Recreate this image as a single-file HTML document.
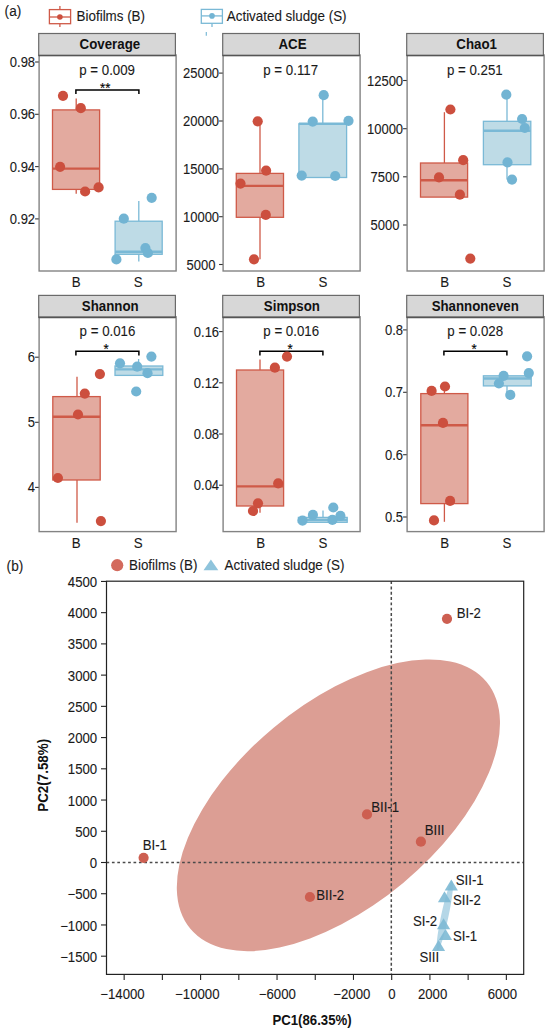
<!DOCTYPE html>
<html><head><meta charset="utf-8"><style>
html,body{margin:0;padding:0;background:#fff;}
body{width:550px;height:1031px;overflow:hidden;}
svg{display:block;font-family:"Liberation Sans", sans-serif;}
</style></head><body>
<svg width="550" height="1031" viewBox="0 0 550 1031">
<rect width="550" height="1031" fill="#fff"/>
<rect x="39.1" y="55.0" width="137.0" height="216.0" fill="#fff" stroke="#838383" stroke-width="1.4"/>
<rect x="38.7" y="33.5" width="136.7" height="22.0" fill="#d7d7d7" stroke="#6a6a6a" stroke-width="1.2"/>
<line x1="38.7" y1="55.5" x2="175.7" y2="55.5" stroke="#555" stroke-width="1.7"/>
<text transform="translate(109.90 48.80) scale(1 1.07)" font-size="13.3" text-anchor="middle" font-weight="bold" fill="#111" >Coverage</text>
<line x1="35.1" y1="62.0" x2="38.7" y2="62.0" stroke="#333" stroke-width="1.1"/>
<text transform="translate(35.10 67.00) scale(1 1.07)" font-size="13.0" text-anchor="end" font-weight="normal" fill="#1a1a1a" stroke="#1a1a1a" stroke-width="0.1" >0.98</text>
<line x1="35.1" y1="114.3" x2="38.7" y2="114.3" stroke="#333" stroke-width="1.1"/>
<text transform="translate(35.10 119.30) scale(1 1.07)" font-size="13.0" text-anchor="end" font-weight="normal" fill="#1a1a1a" stroke="#1a1a1a" stroke-width="0.1" >0.96</text>
<line x1="35.1" y1="166.6" x2="38.7" y2="166.6" stroke="#333" stroke-width="1.1"/>
<text transform="translate(35.10 171.60) scale(1 1.07)" font-size="13.0" text-anchor="end" font-weight="normal" fill="#1a1a1a" stroke="#1a1a1a" stroke-width="0.1" >0.94</text>
<line x1="35.1" y1="218.9" x2="38.7" y2="218.9" stroke="#333" stroke-width="1.1"/>
<text transform="translate(35.10 223.90) scale(1 1.07)" font-size="13.0" text-anchor="end" font-weight="normal" fill="#1a1a1a" stroke="#1a1a1a" stroke-width="0.1" >0.92</text>
<text transform="translate(76.10 286.50) scale(1 1.07)" font-size="13.3" text-anchor="middle" font-weight="normal" fill="#1a1a1a" stroke="#1a1a1a" stroke-width="0.1" >B</text>
<text transform="translate(138.30 286.50) scale(1 1.07)" font-size="13.3" text-anchor="middle" font-weight="normal" fill="#1a1a1a" stroke="#1a1a1a" stroke-width="0.1" >S</text>
<text transform="translate(107.10 74.70) scale(1 1.07)" font-size="13.3" text-anchor="middle" font-weight="normal" fill="#1a1a1a" stroke="#1a1a1a" stroke-width="0.1" >p = 0.009</text>
<path d="M75.89999999999999,94.10000000000001 V89.9 H138.9 V94.10000000000001" fill="none" stroke="#000" stroke-width="1.5"/>
<text transform="translate(105.30 92.95) scale(1 1.07)" font-size="13.3" text-anchor="middle" font-weight="normal" fill="#000" stroke="#000" stroke-width="0.1" >**</text>
<line x1="76.2" y1="98.4" x2="76.2" y2="109.9" stroke="#cf5a48" stroke-width="1.3"/>
<line x1="76.2" y1="189.4" x2="76.2" y2="193.8" stroke="#cf5a48" stroke-width="1.3"/>
<rect x="52.5" y="109.9" width="47.099999999999994" height="79.5" fill="#e3aa9f" stroke="#cf5a48" stroke-width="1.3"/>
<line x1="52.5" y1="168.6" x2="99.6" y2="168.6" stroke="#cf5a48" stroke-width="2.4"/>
<circle cx="63" cy="95.8" r="5.1" fill="#cc4f3e"/>
<circle cx="80.8" cy="108.2" r="5.1" fill="#cc4f3e"/>
<circle cx="60.1" cy="166.8" r="5.1" fill="#cc4f3e"/>
<circle cx="85.1" cy="191.5" r="5.1" fill="#cc4f3e"/>
<circle cx="98.6" cy="187.4" r="5.1" fill="#cc4f3e"/>
<line x1="138.8" y1="200.9" x2="138.8" y2="221.2" stroke="#7ab9d6" stroke-width="1.3"/>
<line x1="138.8" y1="254.3" x2="138.8" y2="261.5" stroke="#7ab9d6" stroke-width="1.3"/>
<rect x="115.1" y="221.2" width="47.099999999999994" height="33.10000000000002" fill="#bedbe6" stroke="#7ab9d6" stroke-width="1.3"/>
<line x1="115.1" y1="251.8" x2="162.2" y2="251.8" stroke="#7ab9d6" stroke-width="2.4"/>
<circle cx="151.7" cy="197.8" r="5.1" fill="#72b4d3"/>
<circle cx="123.8" cy="218.7" r="5.1" fill="#72b4d3"/>
<circle cx="145.4" cy="248" r="5.1" fill="#72b4d3"/>
<circle cx="147.9" cy="253" r="5.1" fill="#72b4d3"/>
<circle cx="116.4" cy="259.4" r="5.1" fill="#72b4d3"/>
<rect x="223.1" y="55.0" width="137.0" height="216.0" fill="#fff" stroke="#838383" stroke-width="1.4"/>
<rect x="222.7" y="33.5" width="136.7" height="22.0" fill="#d7d7d7" stroke="#6a6a6a" stroke-width="1.2"/>
<line x1="222.7" y1="55.5" x2="359.7" y2="55.5" stroke="#555" stroke-width="1.7"/>
<text transform="translate(292.50 48.80) scale(1 1.07)" font-size="13.3" text-anchor="middle" font-weight="bold" fill="#111" >ACE</text>
<line x1="219.1" y1="73.1" x2="222.7" y2="73.1" stroke="#333" stroke-width="1.1"/>
<text transform="translate(219.10 78.10) scale(1 1.07)" font-size="13.0" text-anchor="end" font-weight="normal" fill="#1a1a1a" stroke="#1a1a1a" stroke-width="0.1" >25000</text>
<line x1="219.1" y1="121.0" x2="222.7" y2="121.0" stroke="#333" stroke-width="1.1"/>
<text transform="translate(219.10 126.00) scale(1 1.07)" font-size="13.0" text-anchor="end" font-weight="normal" fill="#1a1a1a" stroke="#1a1a1a" stroke-width="0.1" >20000</text>
<line x1="219.1" y1="168.9" x2="222.7" y2="168.9" stroke="#333" stroke-width="1.1"/>
<text transform="translate(219.10 173.90) scale(1 1.07)" font-size="13.0" text-anchor="end" font-weight="normal" fill="#1a1a1a" stroke="#1a1a1a" stroke-width="0.1" >15000</text>
<line x1="219.1" y1="216.7" x2="222.7" y2="216.7" stroke="#333" stroke-width="1.1"/>
<text transform="translate(219.10 221.70) scale(1 1.07)" font-size="13.0" text-anchor="end" font-weight="normal" fill="#1a1a1a" stroke="#1a1a1a" stroke-width="0.1" >10000</text>
<line x1="219.1" y1="264.5" x2="222.7" y2="264.5" stroke="#333" stroke-width="1.1"/>
<text transform="translate(215.40 269.50) scale(1 1.07)" font-size="13.0" text-anchor="end" font-weight="normal" fill="#1a1a1a" stroke="#1a1a1a" stroke-width="0.1" >5000</text>
<text transform="translate(260.80 286.50) scale(1 1.07)" font-size="13.3" text-anchor="middle" font-weight="normal" fill="#1a1a1a" stroke="#1a1a1a" stroke-width="0.1" >B</text>
<text transform="translate(323.00 286.50) scale(1 1.07)" font-size="13.3" text-anchor="middle" font-weight="normal" fill="#1a1a1a" stroke="#1a1a1a" stroke-width="0.1" >S</text>
<text transform="translate(290.70 74.70) scale(1 1.07)" font-size="13.3" text-anchor="middle" font-weight="normal" fill="#1a1a1a" stroke="#1a1a1a" stroke-width="0.1" >p = 0.117</text>
<line x1="260" y1="121.3" x2="260" y2="173.4" stroke="#cf5a48" stroke-width="1.3"/>
<line x1="260" y1="217.3" x2="260" y2="259.3" stroke="#cf5a48" stroke-width="1.3"/>
<rect x="236.3" y="173.4" width="47.19999999999999" height="43.900000000000006" fill="#e3aa9f" stroke="#cf5a48" stroke-width="1.3"/>
<line x1="236.3" y1="185.9" x2="283.5" y2="185.9" stroke="#cf5a48" stroke-width="2.4"/>
<circle cx="257.7" cy="121.3" r="5.1" fill="#cc4f3e"/>
<circle cx="266.1" cy="170.7" r="5.1" fill="#cc4f3e"/>
<circle cx="240.5" cy="183.6" r="5.1" fill="#cc4f3e"/>
<circle cx="265.8" cy="214.9" r="5.1" fill="#cc4f3e"/>
<circle cx="254" cy="259.3" r="5.1" fill="#cc4f3e"/>
<line x1="322.8" y1="95.2" x2="322.8" y2="123.8" stroke="#7ab9d6" stroke-width="1.3"/>
<line x1="322.8" y1="177.5" x2="322.8" y2="177.5" stroke="#7ab9d6" stroke-width="1.3"/>
<rect x="298.9" y="123.8" width="47.700000000000045" height="53.7" fill="#bedbe6" stroke="#7ab9d6" stroke-width="1.3"/>
<line x1="298.9" y1="123.8" x2="346.6" y2="123.8" stroke="#7ab9d6" stroke-width="2.4"/>
<circle cx="323.7" cy="95.2" r="5.1" fill="#72b4d3"/>
<circle cx="312.7" cy="121.6" r="5.1" fill="#72b4d3"/>
<circle cx="348.5" cy="120.8" r="5.1" fill="#72b4d3"/>
<circle cx="301.7" cy="175.6" r="5.1" fill="#72b4d3"/>
<circle cx="335.2" cy="176" r="5.1" fill="#72b4d3"/>
<rect x="407.09999999999997" y="55.0" width="137.0" height="216.0" fill="#fff" stroke="#838383" stroke-width="1.4"/>
<rect x="406.7" y="33.5" width="136.7" height="22.0" fill="#d7d7d7" stroke="#6a6a6a" stroke-width="1.2"/>
<line x1="406.7" y1="55.5" x2="543.7" y2="55.5" stroke="#555" stroke-width="1.7"/>
<text transform="translate(476.60 48.80) scale(1 1.07)" font-size="13.3" text-anchor="middle" font-weight="bold" fill="#111" >Chao1</text>
<line x1="403.09999999999997" y1="80.5" x2="406.7" y2="80.5" stroke="#333" stroke-width="1.1"/>
<text transform="translate(403.10 85.50) scale(1 1.07)" font-size="13.0" text-anchor="end" font-weight="normal" fill="#1a1a1a" stroke="#1a1a1a" stroke-width="0.1" >12500</text>
<line x1="403.09999999999997" y1="128.7" x2="406.7" y2="128.7" stroke="#333" stroke-width="1.1"/>
<text transform="translate(403.10 133.70) scale(1 1.07)" font-size="13.0" text-anchor="end" font-weight="normal" fill="#1a1a1a" stroke="#1a1a1a" stroke-width="0.1" >10000</text>
<line x1="403.09999999999997" y1="176.8" x2="406.7" y2="176.8" stroke="#333" stroke-width="1.1"/>
<text transform="translate(399.40 181.80) scale(1 1.07)" font-size="13.0" text-anchor="end" font-weight="normal" fill="#1a1a1a" stroke="#1a1a1a" stroke-width="0.1" >7500</text>
<line x1="403.09999999999997" y1="225.0" x2="406.7" y2="225.0" stroke="#333" stroke-width="1.1"/>
<text transform="translate(399.40 230.00) scale(1 1.07)" font-size="13.0" text-anchor="end" font-weight="normal" fill="#1a1a1a" stroke="#1a1a1a" stroke-width="0.1" >5000</text>
<text transform="translate(444.80 286.50) scale(1 1.07)" font-size="13.3" text-anchor="middle" font-weight="normal" fill="#1a1a1a" stroke="#1a1a1a" stroke-width="0.1" >B</text>
<text transform="translate(507.00 286.50) scale(1 1.07)" font-size="13.3" text-anchor="middle" font-weight="normal" fill="#1a1a1a" stroke="#1a1a1a" stroke-width="0.1" >S</text>
<text transform="translate(474.80 74.70) scale(1 1.07)" font-size="13.3" text-anchor="middle" font-weight="normal" fill="#1a1a1a" stroke="#1a1a1a" stroke-width="0.1" >p = 0.251</text>
<line x1="444.4" y1="112.2" x2="444.4" y2="163.0" stroke="#cf5a48" stroke-width="1.3"/>
<line x1="444.4" y1="197.1" x2="444.4" y2="197.1" stroke="#cf5a48" stroke-width="1.3"/>
<rect x="420.5" y="163.0" width="47.10000000000002" height="34.099999999999994" fill="#e3aa9f" stroke="#cf5a48" stroke-width="1.3"/>
<line x1="420.5" y1="180.3" x2="467.6" y2="180.3" stroke="#cf5a48" stroke-width="2.4"/>
<circle cx="450.4" cy="109.5" r="5.1" fill="#cc4f3e"/>
<circle cx="463.2" cy="160.2" r="5.1" fill="#cc4f3e"/>
<circle cx="439" cy="177.4" r="5.1" fill="#cc4f3e"/>
<circle cx="459.9" cy="194.7" r="5.1" fill="#cc4f3e"/>
<circle cx="470.3" cy="258.6" r="5.1" fill="#cc4f3e"/>
<line x1="507" y1="95.4" x2="507" y2="121.3" stroke="#7ab9d6" stroke-width="1.3"/>
<line x1="507" y1="164.7" x2="507" y2="179.6" stroke="#7ab9d6" stroke-width="1.3"/>
<rect x="483.4" y="121.3" width="47.39999999999998" height="43.39999999999999" fill="#bedbe6" stroke="#7ab9d6" stroke-width="1.3"/>
<line x1="483.4" y1="130.7" x2="530.8" y2="130.7" stroke="#7ab9d6" stroke-width="2.4"/>
<circle cx="506.3" cy="94.7" r="5.1" fill="#72b4d3"/>
<circle cx="522.1" cy="119" r="5.1" fill="#72b4d3"/>
<circle cx="524.8" cy="128" r="5.1" fill="#72b4d3"/>
<circle cx="507.5" cy="162.4" r="5.1" fill="#72b4d3"/>
<circle cx="512" cy="179.6" r="5.1" fill="#72b4d3"/>
<rect x="39.1" y="316.8" width="137.0" height="214.8" fill="#fff" stroke="#838383" stroke-width="1.4"/>
<rect x="38.7" y="295.4" width="136.7" height="21.900000000000034" fill="#d7d7d7" stroke="#6a6a6a" stroke-width="1.2"/>
<line x1="38.7" y1="317.3" x2="175.7" y2="317.3" stroke="#555" stroke-width="1.7"/>
<text transform="translate(110.20 310.72) scale(1 1.07)" font-size="13.3" text-anchor="middle" font-weight="bold" fill="#111" >Shannon</text>
<line x1="35.1" y1="357.2" x2="38.7" y2="357.2" stroke="#333" stroke-width="1.1"/>
<text transform="translate(35.10 362.20) scale(1 1.07)" font-size="13.0" text-anchor="end" font-weight="normal" fill="#1a1a1a" stroke="#1a1a1a" stroke-width="0.1" >6</text>
<line x1="35.1" y1="422.3" x2="38.7" y2="422.3" stroke="#333" stroke-width="1.1"/>
<text transform="translate(35.10 427.30) scale(1 1.07)" font-size="13.0" text-anchor="end" font-weight="normal" fill="#1a1a1a" stroke="#1a1a1a" stroke-width="0.1" >5</text>
<line x1="35.1" y1="487.4" x2="38.7" y2="487.4" stroke="#333" stroke-width="1.1"/>
<text transform="translate(35.10 492.40) scale(1 1.07)" font-size="13.0" text-anchor="end" font-weight="normal" fill="#1a1a1a" stroke="#1a1a1a" stroke-width="0.1" >4</text>
<text transform="translate(76.10 547.90) scale(1 1.07)" font-size="13.3" text-anchor="middle" font-weight="normal" fill="#1a1a1a" stroke="#1a1a1a" stroke-width="0.1" >B</text>
<text transform="translate(138.30 547.90) scale(1 1.07)" font-size="13.3" text-anchor="middle" font-weight="normal" fill="#1a1a1a" stroke="#1a1a1a" stroke-width="0.1" >S</text>
<text transform="translate(107.50 336.10) scale(1 1.07)" font-size="13.3" text-anchor="middle" font-weight="normal" fill="#1a1a1a" stroke="#1a1a1a" stroke-width="0.1" >p = 0.016</text>
<path d="M75.89999999999999,355.49999999999994 V351.29999999999995 H138.9 V355.49999999999994" fill="none" stroke="#000" stroke-width="1.5"/>
<text transform="translate(106.20 354.35) scale(1 1.07)" font-size="13.3" text-anchor="middle" font-weight="normal" fill="#000" stroke="#000" stroke-width="0.1" >*</text>
<line x1="77" y1="376.8" x2="77" y2="396.6" stroke="#cf5a48" stroke-width="1.3"/>
<line x1="77" y1="480" x2="77" y2="522.8" stroke="#cf5a48" stroke-width="1.3"/>
<rect x="52.8" y="396.6" width="47.400000000000006" height="83.39999999999998" fill="#e3aa9f" stroke="#cf5a48" stroke-width="1.3"/>
<line x1="52.8" y1="416.8" x2="100.2" y2="416.8" stroke="#cf5a48" stroke-width="2.4"/>
<circle cx="99.9" cy="374.1" r="5.1" fill="#cc4f3e"/>
<circle cx="84.8" cy="393.6" r="5.1" fill="#cc4f3e"/>
<circle cx="78" cy="414.5" r="5.1" fill="#cc4f3e"/>
<circle cx="57.9" cy="478" r="5.1" fill="#cc4f3e"/>
<circle cx="100.9" cy="521.1" r="5.1" fill="#cc4f3e"/>
<line x1="138.6" y1="359" x2="138.6" y2="366" stroke="#7ab9d6" stroke-width="1.3"/>
<line x1="138.6" y1="375.4" x2="138.6" y2="375.4" stroke="#7ab9d6" stroke-width="1.3"/>
<rect x="115" y="366" width="47.80000000000001" height="9.399999999999977" fill="#bedbe6" stroke="#7ab9d6" stroke-width="1.3"/>
<line x1="115" y1="369.4" x2="162.8" y2="369.4" stroke="#7ab9d6" stroke-width="2.4"/>
<circle cx="120" cy="363.3" r="5.1" fill="#72b4d3"/>
<circle cx="137.2" cy="366.7" r="5.1" fill="#72b4d3"/>
<circle cx="151.4" cy="356.6" r="5.1" fill="#72b4d3"/>
<circle cx="147.5" cy="373.2" r="5.1" fill="#72b4d3"/>
<circle cx="136.2" cy="391.5" r="5.1" fill="#72b4d3"/>
<rect x="223.1" y="316.8" width="137.0" height="214.8" fill="#fff" stroke="#838383" stroke-width="1.4"/>
<rect x="222.7" y="295.4" width="136.7" height="21.900000000000034" fill="#d7d7d7" stroke="#6a6a6a" stroke-width="1.2"/>
<line x1="222.7" y1="317.3" x2="359.7" y2="317.3" stroke="#555" stroke-width="1.7"/>
<text transform="translate(291.90 310.72) scale(1 1.07)" font-size="13.3" text-anchor="middle" font-weight="bold" fill="#111" >Simpson</text>
<line x1="219.1" y1="331.6" x2="222.7" y2="331.6" stroke="#333" stroke-width="1.1"/>
<text transform="translate(219.10 336.60) scale(1 1.07)" font-size="13.0" text-anchor="end" font-weight="normal" fill="#1a1a1a" stroke="#1a1a1a" stroke-width="0.1" >0.16</text>
<line x1="219.1" y1="382.8" x2="222.7" y2="382.8" stroke="#333" stroke-width="1.1"/>
<text transform="translate(219.10 387.80) scale(1 1.07)" font-size="13.0" text-anchor="end" font-weight="normal" fill="#1a1a1a" stroke="#1a1a1a" stroke-width="0.1" >0.12</text>
<line x1="219.1" y1="434.0" x2="222.7" y2="434.0" stroke="#333" stroke-width="1.1"/>
<text transform="translate(219.10 439.00) scale(1 1.07)" font-size="13.0" text-anchor="end" font-weight="normal" fill="#1a1a1a" stroke="#1a1a1a" stroke-width="0.1" >0.08</text>
<line x1="219.1" y1="485.2" x2="222.7" y2="485.2" stroke="#333" stroke-width="1.1"/>
<text transform="translate(219.10 490.20) scale(1 1.07)" font-size="13.0" text-anchor="end" font-weight="normal" fill="#1a1a1a" stroke="#1a1a1a" stroke-width="0.1" >0.04</text>
<text transform="translate(260.80 547.90) scale(1 1.07)" font-size="13.3" text-anchor="middle" font-weight="normal" fill="#1a1a1a" stroke="#1a1a1a" stroke-width="0.1" >B</text>
<text transform="translate(323.00 547.90) scale(1 1.07)" font-size="13.3" text-anchor="middle" font-weight="normal" fill="#1a1a1a" stroke="#1a1a1a" stroke-width="0.1" >S</text>
<text transform="translate(291.20 336.10) scale(1 1.07)" font-size="13.3" text-anchor="middle" font-weight="normal" fill="#1a1a1a" stroke="#1a1a1a" stroke-width="0.1" >p = 0.016</text>
<path d="M259.9,355.49999999999994 V351.29999999999995 H322.9 V355.49999999999994" fill="none" stroke="#000" stroke-width="1.5"/>
<text transform="translate(290.20 354.35) scale(1 1.07)" font-size="13.3" text-anchor="middle" font-weight="normal" fill="#000" stroke="#000" stroke-width="0.1" >*</text>
<line x1="260" y1="359.6" x2="260" y2="370" stroke="#cf5a48" stroke-width="1.3"/>
<line x1="260" y1="506" x2="260" y2="512.7" stroke="#cf5a48" stroke-width="1.3"/>
<rect x="236.5" y="370" width="47.10000000000002" height="136" fill="#e3aa9f" stroke="#cf5a48" stroke-width="1.3"/>
<line x1="236.5" y1="486.4" x2="283.6" y2="486.4" stroke="#cf5a48" stroke-width="2.4"/>
<circle cx="287" cy="356.6" r="5.1" fill="#cc4f3e"/>
<circle cx="274.9" cy="367.7" r="5.1" fill="#cc4f3e"/>
<circle cx="278.2" cy="483.4" r="5.1" fill="#cc4f3e"/>
<circle cx="258" cy="503.3" r="5.1" fill="#cc4f3e"/>
<circle cx="253" cy="511" r="5.1" fill="#cc4f3e"/>
<line x1="323" y1="510.5" x2="323" y2="517.4" stroke="#7ab9d6" stroke-width="1.3"/>
<line x1="323" y1="522.3" x2="323" y2="522.3" stroke="#7ab9d6" stroke-width="1.3"/>
<rect x="298.4" y="517.4" width="48.80000000000001" height="4.899999999999977" fill="#bedbe6" stroke="#7ab9d6" stroke-width="1.3"/>
<line x1="298.4" y1="519.9" x2="347.2" y2="519.9" stroke="#7ab9d6" stroke-width="2.4"/>
<circle cx="333.3" cy="507.5" r="5.1" fill="#72b4d3"/>
<circle cx="312.9" cy="514.9" r="5.1" fill="#72b4d3"/>
<circle cx="340.4" cy="515.9" r="5.1" fill="#72b4d3"/>
<circle cx="302.5" cy="520.6" r="5.1" fill="#72b4d3"/>
<circle cx="332.4" cy="519.9" r="5.1" fill="#72b4d3"/>
<rect x="407.09999999999997" y="316.8" width="137.0" height="214.8" fill="#fff" stroke="#838383" stroke-width="1.4"/>
<rect x="406.7" y="295.4" width="136.7" height="21.900000000000034" fill="#d7d7d7" stroke="#6a6a6a" stroke-width="1.2"/>
<line x1="406.7" y1="317.3" x2="543.7" y2="317.3" stroke="#555" stroke-width="1.7"/>
<text transform="translate(475.20 310.72) scale(1 1.07)" font-size="13.3" text-anchor="middle" font-weight="bold" fill="#111" >Shannoneven</text>
<line x1="403.09999999999997" y1="329.9" x2="406.7" y2="329.9" stroke="#333" stroke-width="1.1"/>
<text transform="translate(403.10 334.90) scale(1 1.07)" font-size="13.0" text-anchor="end" font-weight="normal" fill="#1a1a1a" stroke="#1a1a1a" stroke-width="0.1" >0.8</text>
<line x1="403.09999999999997" y1="392.3" x2="406.7" y2="392.3" stroke="#333" stroke-width="1.1"/>
<text transform="translate(403.10 397.30) scale(1 1.07)" font-size="13.0" text-anchor="end" font-weight="normal" fill="#1a1a1a" stroke="#1a1a1a" stroke-width="0.1" >0.7</text>
<line x1="403.09999999999997" y1="454.7" x2="406.7" y2="454.7" stroke="#333" stroke-width="1.1"/>
<text transform="translate(403.10 459.70) scale(1 1.07)" font-size="13.0" text-anchor="end" font-weight="normal" fill="#1a1a1a" stroke="#1a1a1a" stroke-width="0.1" >0.6</text>
<line x1="403.09999999999997" y1="517.0" x2="406.7" y2="517.0" stroke="#333" stroke-width="1.1"/>
<text transform="translate(403.10 522.00) scale(1 1.07)" font-size="13.0" text-anchor="end" font-weight="normal" fill="#1a1a1a" stroke="#1a1a1a" stroke-width="0.1" >0.5</text>
<text transform="translate(444.80 547.90) scale(1 1.07)" font-size="13.3" text-anchor="middle" font-weight="normal" fill="#1a1a1a" stroke="#1a1a1a" stroke-width="0.1" >B</text>
<text transform="translate(507.00 547.90) scale(1 1.07)" font-size="13.3" text-anchor="middle" font-weight="normal" fill="#1a1a1a" stroke="#1a1a1a" stroke-width="0.1" >S</text>
<text transform="translate(475.20 336.10) scale(1 1.07)" font-size="13.3" text-anchor="middle" font-weight="normal" fill="#1a1a1a" stroke="#1a1a1a" stroke-width="0.1" >p = 0.028</text>
<path d="M443.9,355.49999999999994 V351.29999999999995 H506.9 V355.49999999999994" fill="none" stroke="#000" stroke-width="1.5"/>
<text transform="translate(474.20 354.35) scale(1 1.07)" font-size="13.3" text-anchor="middle" font-weight="normal" fill="#000" stroke="#000" stroke-width="0.1" >*</text>
<line x1="444.4" y1="386.5" x2="444.4" y2="393.6" stroke="#cf5a48" stroke-width="1.3"/>
<line x1="444.4" y1="503.6" x2="444.4" y2="521.8" stroke="#cf5a48" stroke-width="1.3"/>
<rect x="420.8" y="393.6" width="47.099999999999966" height="110.0" fill="#e3aa9f" stroke="#cf5a48" stroke-width="1.3"/>
<line x1="420.8" y1="425.2" x2="467.9" y2="425.2" stroke="#cf5a48" stroke-width="2.4"/>
<circle cx="431.6" cy="390.9" r="5.1" fill="#cc4f3e"/>
<circle cx="445" cy="386.5" r="5.1" fill="#cc4f3e"/>
<circle cx="443" cy="422.9" r="5.1" fill="#cc4f3e"/>
<circle cx="450.1" cy="500.9" r="5.1" fill="#cc4f3e"/>
<circle cx="434" cy="520.4" r="5.1" fill="#cc4f3e"/>
<line x1="507" y1="375.8" x2="507" y2="375.8" stroke="#7ab9d6" stroke-width="1.3"/>
<line x1="507" y1="385.9" x2="507" y2="394.9" stroke="#7ab9d6" stroke-width="1.3"/>
<rect x="483.4" y="375.8" width="47.80000000000007" height="10.099999999999966" fill="#bedbe6" stroke="#7ab9d6" stroke-width="1.3"/>
<line x1="483.4" y1="378.5" x2="531.2" y2="378.5" stroke="#7ab9d6" stroke-width="2.4"/>
<circle cx="527.1" cy="356.3" r="5.1" fill="#72b4d3"/>
<circle cx="528.8" cy="373.1" r="5.1" fill="#72b4d3"/>
<circle cx="503.6" cy="375.8" r="5.1" fill="#72b4d3"/>
<circle cx="498.9" cy="383.5" r="5.1" fill="#72b4d3"/>
<circle cx="510.3" cy="394.9" r="5.1" fill="#72b4d3"/>
<text transform="translate(4.60 15.90) scale(1 1.07)" font-size="13.6" text-anchor="start" font-weight="normal" fill="#1a1a1a" stroke="#1a1a1a" stroke-width="0.1" >(a)</text>
<line x1="59.9" y1="6.0" x2="59.9" y2="9.6" stroke="#cf5a48" stroke-width="1.3"/>
<line x1="59.9" y1="23.7" x2="59.9" y2="27.0" stroke="#cf5a48" stroke-width="1.3"/>
<rect x="49.4" y="9.6" width="21.199999999999996" height="14.1" fill="#fff" stroke="#cf5a48" stroke-width="1.3"/>
<line x1="49.4" y1="17" x2="70.6" y2="17" stroke="#cf5a48" stroke-width="1.3"/>
<circle cx="59.9" cy="17" r="2.8" fill="#cc4f3e"/>
<text transform="translate(76.60 20.60) scale(1 1.07)" font-size="13.4" text-anchor="start" font-weight="normal" fill="#1a1a1a" stroke="#1a1a1a" stroke-width="0.1" >Biofilms (B)</text>
<line x1="212" y1="23.3" x2="212" y2="27.0" stroke="#7ab9d6" stroke-width="1.3"/>
<rect x="201.3" y="9.4" width="21.099999999999994" height="13.9" fill="#fff" stroke="#7ab9d6" stroke-width="1.3"/>
<line x1="201.3" y1="15.9" x2="222.4" y2="15.9" stroke="#7ab9d6" stroke-width="1.3"/>
<circle cx="212" cy="15.9" r="2.8" fill="#72b4d3"/>
<line x1="206.3" y1="32" x2="206.3" y2="35.8" stroke="#7ab9d6" stroke-width="1.2"/>
<text transform="translate(226.80 20.60) scale(1 1.07)" font-size="13.4" text-anchor="start" font-weight="normal" fill="#1a1a1a" stroke="#1a1a1a" stroke-width="0.1" >Activated sludge (S)</text>
<text transform="translate(6.60 570.70) scale(1 1.07)" font-size="13.6" text-anchor="start" font-weight="normal" fill="#1a1a1a" stroke="#1a1a1a" stroke-width="0.1" >(b)</text>
<ellipse cx="338.4" cy="805.3" rx="192.8" ry="101.1" transform="rotate(-39.84 338.4 805.3)" fill="#dc9e94"/>
<ellipse cx="444.8" cy="916" rx="35.5" ry="3.7" transform="rotate(-78 444.8 916)" fill="#b5d7e7"/>
<line x1="106.5" y1="862.5" x2="523.7" y2="862.5" stroke="#4a4a4a" stroke-width="1.45" stroke-dasharray="2.7,2.7"/>
<line x1="391.3" y1="581.2" x2="391.3" y2="974.4" stroke="#4a4a4a" stroke-width="1.5" stroke-dasharray="2.9,2.4"/>
<rect x="106.5" y="581.2" width="417.20000000000005" height="393.19999999999993" fill="none" stroke="#222" stroke-width="1.2"/>
<line x1="101.0" y1="956.19" x2="106.5" y2="956.19" stroke="#222" stroke-width="1.1"/>
<text transform="translate(97.20 961.79) scale(1 1.07)" font-size="13.2" text-anchor="end" font-weight="normal" fill="#1a1a1a" stroke="#1a1a1a" stroke-width="0.1" >−1500</text>
<line x1="101.0" y1="924.96" x2="106.5" y2="924.96" stroke="#222" stroke-width="1.1"/>
<text transform="translate(97.20 930.56) scale(1 1.07)" font-size="13.2" text-anchor="end" font-weight="normal" fill="#1a1a1a" stroke="#1a1a1a" stroke-width="0.1" >−1000</text>
<line x1="101.0" y1="893.73" x2="106.5" y2="893.73" stroke="#222" stroke-width="1.1"/>
<text transform="translate(97.20 899.33) scale(1 1.07)" font-size="13.2" text-anchor="end" font-weight="normal" fill="#1a1a1a" stroke="#1a1a1a" stroke-width="0.1" >−500</text>
<line x1="101.0" y1="862.50" x2="106.5" y2="862.50" stroke="#222" stroke-width="1.1"/>
<text transform="translate(97.20 868.10) scale(1 1.07)" font-size="13.2" text-anchor="end" font-weight="normal" fill="#1a1a1a" stroke="#1a1a1a" stroke-width="0.1" >0</text>
<line x1="101.0" y1="831.27" x2="106.5" y2="831.27" stroke="#222" stroke-width="1.1"/>
<text transform="translate(97.20 836.87) scale(1 1.07)" font-size="13.2" text-anchor="end" font-weight="normal" fill="#1a1a1a" stroke="#1a1a1a" stroke-width="0.1" >500</text>
<line x1="101.0" y1="800.04" x2="106.5" y2="800.04" stroke="#222" stroke-width="1.1"/>
<text transform="translate(97.20 805.64) scale(1 1.07)" font-size="13.2" text-anchor="end" font-weight="normal" fill="#1a1a1a" stroke="#1a1a1a" stroke-width="0.1" >1000</text>
<line x1="101.0" y1="768.81" x2="106.5" y2="768.81" stroke="#222" stroke-width="1.1"/>
<text transform="translate(97.20 774.41) scale(1 1.07)" font-size="13.2" text-anchor="end" font-weight="normal" fill="#1a1a1a" stroke="#1a1a1a" stroke-width="0.1" >1500</text>
<line x1="101.0" y1="737.58" x2="106.5" y2="737.58" stroke="#222" stroke-width="1.1"/>
<text transform="translate(97.20 743.18) scale(1 1.07)" font-size="13.2" text-anchor="end" font-weight="normal" fill="#1a1a1a" stroke="#1a1a1a" stroke-width="0.1" >2000</text>
<line x1="101.0" y1="706.35" x2="106.5" y2="706.35" stroke="#222" stroke-width="1.1"/>
<text transform="translate(97.20 711.95) scale(1 1.07)" font-size="13.2" text-anchor="end" font-weight="normal" fill="#1a1a1a" stroke="#1a1a1a" stroke-width="0.1" >2500</text>
<line x1="101.0" y1="675.12" x2="106.5" y2="675.12" stroke="#222" stroke-width="1.1"/>
<text transform="translate(97.20 680.72) scale(1 1.07)" font-size="13.2" text-anchor="end" font-weight="normal" fill="#1a1a1a" stroke="#1a1a1a" stroke-width="0.1" >3000</text>
<line x1="101.0" y1="643.89" x2="106.5" y2="643.89" stroke="#222" stroke-width="1.1"/>
<text transform="translate(97.20 649.49) scale(1 1.07)" font-size="13.2" text-anchor="end" font-weight="normal" fill="#1a1a1a" stroke="#1a1a1a" stroke-width="0.1" >3500</text>
<line x1="101.0" y1="612.66" x2="106.5" y2="612.66" stroke="#222" stroke-width="1.1"/>
<text transform="translate(97.20 618.26) scale(1 1.07)" font-size="13.2" text-anchor="end" font-weight="normal" fill="#1a1a1a" stroke="#1a1a1a" stroke-width="0.1" >4000</text>
<line x1="101.0" y1="581.43" x2="106.5" y2="581.43" stroke="#222" stroke-width="1.1"/>
<text transform="translate(97.20 587.03) scale(1 1.07)" font-size="13.2" text-anchor="end" font-weight="normal" fill="#1a1a1a" stroke="#1a1a1a" stroke-width="0.1" >4500</text>
<line x1="124.16" y1="974.4" x2="124.16" y2="979.9" stroke="#222" stroke-width="1.1"/>
<text transform="translate(122.50 998.50) scale(1 1.07)" font-size="13.2" text-anchor="middle" font-weight="normal" fill="#1a1a1a" stroke="#1a1a1a" stroke-width="0.1" >−14000</text>
<line x1="162.38" y1="974.4" x2="162.38" y2="979.9" stroke="#222" stroke-width="1.1"/>
<line x1="200.60" y1="974.4" x2="200.60" y2="979.9" stroke="#222" stroke-width="1.1"/>
<text transform="translate(197.30 998.50) scale(1 1.07)" font-size="13.2" text-anchor="middle" font-weight="normal" fill="#1a1a1a" stroke="#1a1a1a" stroke-width="0.1" >−10000</text>
<line x1="238.82" y1="974.4" x2="238.82" y2="979.9" stroke="#222" stroke-width="1.1"/>
<line x1="277.04" y1="974.4" x2="277.04" y2="979.9" stroke="#222" stroke-width="1.1"/>
<text transform="translate(277.30 998.50) scale(1 1.07)" font-size="13.2" text-anchor="middle" font-weight="normal" fill="#1a1a1a" stroke="#1a1a1a" stroke-width="0.1" >−6000</text>
<line x1="315.26" y1="974.4" x2="315.26" y2="979.9" stroke="#222" stroke-width="1.1"/>
<line x1="353.48" y1="974.4" x2="353.48" y2="979.9" stroke="#222" stroke-width="1.1"/>
<text transform="translate(351.80 998.50) scale(1 1.07)" font-size="13.2" text-anchor="middle" font-weight="normal" fill="#1a1a1a" stroke="#1a1a1a" stroke-width="0.1" >−2000</text>
<line x1="391.70" y1="974.4" x2="391.70" y2="979.9" stroke="#222" stroke-width="1.1"/>
<text transform="translate(391.90 998.50) scale(1 1.07)" font-size="13.2" text-anchor="middle" font-weight="normal" fill="#1a1a1a" stroke="#1a1a1a" stroke-width="0.1" >0</text>
<line x1="429.92" y1="974.4" x2="429.92" y2="979.9" stroke="#222" stroke-width="1.1"/>
<text transform="translate(432.60 998.50) scale(1 1.07)" font-size="13.2" text-anchor="middle" font-weight="normal" fill="#1a1a1a" stroke="#1a1a1a" stroke-width="0.1" >2000</text>
<line x1="468.14" y1="974.4" x2="468.14" y2="979.9" stroke="#222" stroke-width="1.1"/>
<line x1="506.36" y1="974.4" x2="506.36" y2="979.9" stroke="#222" stroke-width="1.1"/>
<text transform="translate(502.40 998.50) scale(1 1.07)" font-size="13.2" text-anchor="middle" font-weight="normal" fill="#1a1a1a" stroke="#1a1a1a" stroke-width="0.1" >6000</text>
<text transform="translate(312.00 1024.80) scale(1 1.07)" font-size="13.2" text-anchor="middle" font-weight="bold" fill="#111" >PC1(86.35%)</text>
<text x="0" y="0" font-size="13.4" font-weight="bold" fill="#111" text-anchor="middle" transform="translate(48.4 775.3) rotate(-90) scale(1 1.07)">PC2(7.58%)</text>
<circle cx="447" cy="618.8" r="5.1" fill="#cd5f51"/>
<text transform="translate(456.70 618.00) scale(1 1.07)" font-size="13.2" text-anchor="start" font-weight="normal" fill="#1a1a1a" stroke="#1a1a1a" stroke-width="0.1" >BI-2</text>
<circle cx="143.6" cy="857.8" r="5.1" fill="#cd5f51"/>
<text transform="translate(142.70 849.70) scale(1 1.07)" font-size="13.2" text-anchor="start" font-weight="normal" fill="#1a1a1a" stroke="#1a1a1a" stroke-width="0.1" >BI-1</text>
<circle cx="367" cy="814.4" r="5.1" fill="#cd5f51"/>
<text transform="translate(371.20 812.00) scale(1 1.07)" font-size="13.2" text-anchor="start" font-weight="normal" fill="#1a1a1a" stroke="#1a1a1a" stroke-width="0.1" >BII-1</text>
<circle cx="420.9" cy="841.7" r="5.1" fill="#cd5f51"/>
<text transform="translate(424.70 835.30) scale(1 1.07)" font-size="13.2" text-anchor="start" font-weight="normal" fill="#1a1a1a" stroke="#1a1a1a" stroke-width="0.1" >BIII</text>
<circle cx="309.9" cy="897" r="5.1" fill="#cd5f51"/>
<text transform="translate(316.30 900.20) scale(1 1.07)" font-size="13.2" text-anchor="start" font-weight="normal" fill="#1a1a1a" stroke="#1a1a1a" stroke-width="0.1" >BII-2</text>
<path d="M451.3,879.6 L457.90000000000003,890.6 L444.7,890.6 Z" fill="#7db9d4" fill-opacity="0.9"/>
<text transform="translate(455.80 884.80) scale(1 1.07)" font-size="13.2" text-anchor="start" font-weight="normal" fill="#1a1a1a" stroke="#1a1a1a" stroke-width="0.1" >SII-1</text>
<path d="M444.5,891.3 L451.1,902.3 L437.9,902.3 Z" fill="#7db9d4" fill-opacity="0.9"/>
<text transform="translate(453.00 904.60) scale(1 1.07)" font-size="13.2" text-anchor="start" font-weight="normal" fill="#1a1a1a" stroke="#1a1a1a" stroke-width="0.1" >SII-2</text>
<path d="M443.6,918.2 L450.20000000000005,929.2 L437.0,929.2 Z" fill="#7db9d4" fill-opacity="0.9"/>
<text transform="translate(413.00 925.50) scale(1 1.07)" font-size="13.2" text-anchor="start" font-weight="normal" fill="#1a1a1a" stroke="#1a1a1a" stroke-width="0.1" >SI-2</text>
<path d="M445.5,929.1 L452.1,940.1 L438.9,940.1 Z" fill="#7db9d4" fill-opacity="0.9"/>
<text transform="translate(453.00 941.10) scale(1 1.07)" font-size="13.2" text-anchor="start" font-weight="normal" fill="#1a1a1a" stroke="#1a1a1a" stroke-width="0.1" >SI-1</text>
<path d="M438.5,940 L445.1,951 L431.9,951 Z" fill="#7db9d4" fill-opacity="0.9"/>
<text transform="translate(419.40 961.60) scale(1 1.07)" font-size="13.2" text-anchor="start" font-weight="normal" fill="#1a1a1a" stroke="#1a1a1a" stroke-width="0.1" >SIII</text>
<circle cx="117.2" cy="565.2" r="6.1" fill="#d36a5d"/>
<text transform="translate(129.00 569.60) scale(1 1.07)" font-size="13.4" text-anchor="start" font-weight="normal" fill="#1a1a1a" stroke="#1a1a1a" stroke-width="0.1" >Biofilms (B)</text>
<path d="M210.9,559.4 L218.3,570.2 L203.5,570.2 Z" fill="#8fc4dc"/>
<text transform="translate(224.60 569.60) scale(1 1.07)" font-size="13.4" text-anchor="start" font-weight="normal" fill="#1a1a1a" stroke="#1a1a1a" stroke-width="0.1" >Activated sludge (S)</text>
</svg></body></html>
